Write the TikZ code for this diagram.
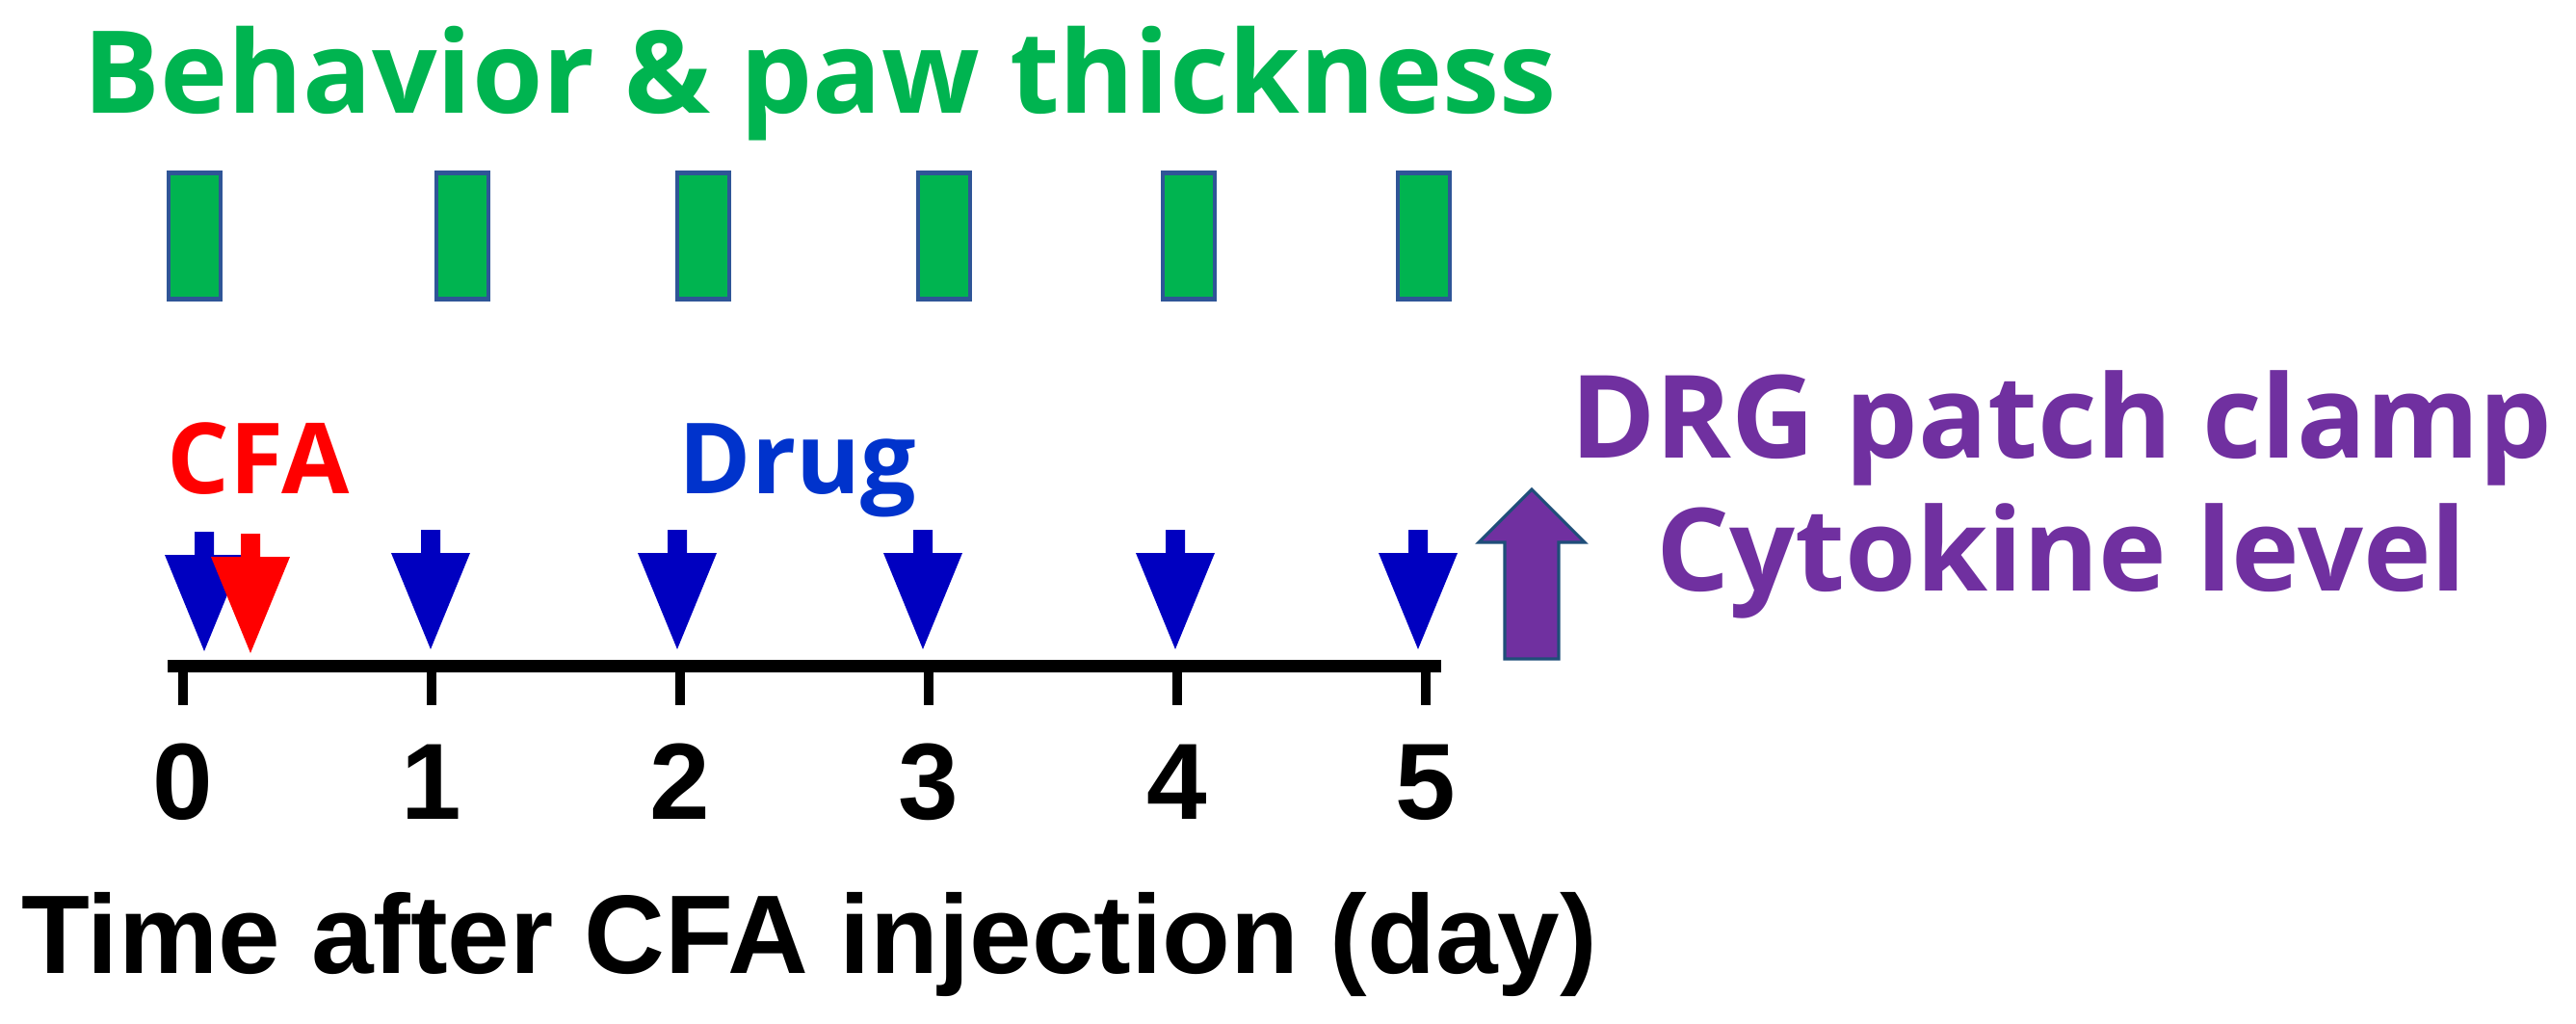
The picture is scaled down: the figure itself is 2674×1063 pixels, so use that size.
\documentclass[tikz,border=0pt]{standalone}
\usepackage{fontspec}
\newfontfamily\osfont{Open Sans}
\newfontfamily\arfont{Liberation Sans}
\definecolor{tgreen}{RGB}{0,180,80}
\definecolor{barblue}{RGB}{47,85,151}
\definecolor{tred}{RGB}{255,0,0}
\definecolor{drugblue}{RGB}{0,51,204}
\definecolor{triblue}{RGB}{0,0,192}
\definecolor{tpurple}{RGB}{112,48,160}
\definecolor{arrowline}{RGB}{31,78,121}
\begin{document}
\begin{tikzpicture}[x=0.01cm,y=-0.01cm,
  barbox/.style={draw=barblue, line width=1.4pt, fill=tgreen, minimum width=0.54cm, minimum height=1.31cm, inner sep=0pt},
  lbl/.style={inner sep=0pt, anchor=base},
  darrow/.pic={\fill (-10,-124) -- (10,-124) -- (10,-100) -- (41,-100) -- (0,0) -- (-41,-100) -- (-10,-100) -- cycle;}
]
\useasboundingbox (0,0) rectangle (2674,1063);

% title
\node[lbl, text=tgreen, font=\osfont\bfseries\fontsize{33.8}{40}\selectfont] (title) at (851,117) {Behavior \& paw thickness};

% green bars
\node[barbox] (b0) at (202,245) {};
\node[barbox] (b1) at (480,245) {};
\node[barbox] (b2) at (730,245) {};
\node[barbox] (b3) at (980,245) {};
\node[barbox] (b4) at (1234,245) {};
\node[barbox] (b5) at (1478,245) {};

% labels above arrows
\node[lbl, text=tred, font=\osfont\bfseries\fontsize{29}{34}\selectfont] (cfa) at (268,512) {CFA};
\node[lbl, text=drugblue, font=\osfont\bfseries\fontsize{29}{34}\selectfont] (drug) at (828,512) {Drug};

% down arrows
\pic[triblue] at (212,676) {darrow};
\pic[tred] at (260,678) {darrow};
\pic[triblue] at (447,674) {darrow};
\pic[triblue] at (703,674) {darrow};
\pic[triblue] at (958,674) {darrow};
\pic[triblue] at (1220,674) {darrow};
\pic[triblue] at (1472,674) {darrow};

% axis
\coordinate (t0) at (190,691);
\coordinate (t1) at (448,691);
\coordinate (t2) at (706,691);
\coordinate (t3) at (964,691);
\coordinate (t4) at (1222,691);
\coordinate (t5) at (1480,691);
\draw[line width=3.7pt] ([xshift=-1.6mm]t0) -- ([xshift=1.6mm]t5);
\foreach \t in {t0,t1,t2,t3,t4,t5}
  \draw[line width=2.9pt] (\t) -- ++(0,41);

% tick labels
\foreach \t/\n in {t0/0,t1/1,t2/2,t3/3,t4/4,t5/5}
  \node[lbl, font=\arfont\bfseries\fontsize{32}{38}\selectfont] (l\n) at ([yshift=-1.5938cm]\t) {\n};

% axis title
\node[lbl, font=\arfont\bfseries\fontsize{33}{40}\selectfont] (xlabel) at (840,1010) {Time after CFA injection (day)};

% purple arrow
\draw[draw=arrowline, fill=tpurple, line width=0.9pt, line join=miter]
  (1562,684) -- (1562,563) -- (1535,563) -- (1590,508) -- (1645,563) -- (1618,563) -- (1618,684) -- cycle;

% right texts
\node[lbl, text=tpurple, font=\osfont\bfseries\fontsize{34}{40}\selectfont] (drg) at (2140,475) {DRG patch clamp};
\node[lbl, text=tpurple, font=\osfont\bfseries\fontsize{34}{40}\selectfont] (cyto) at (2140,613) {Cytokine level};
\end{tikzpicture}
\end{document}
